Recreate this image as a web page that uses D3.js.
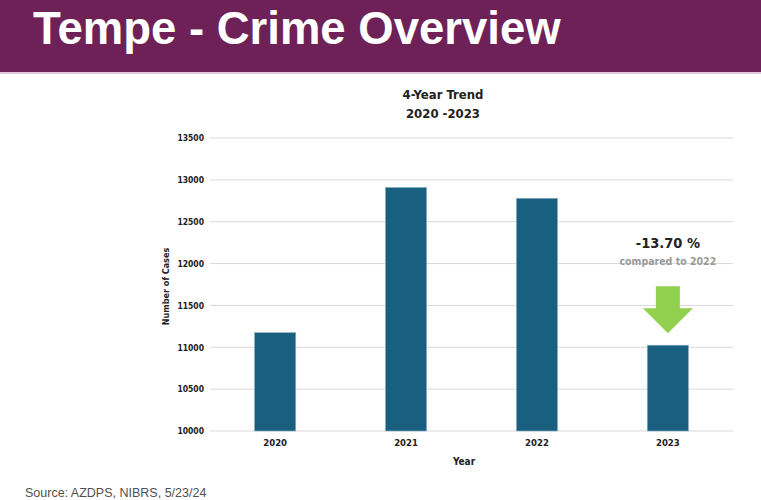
<!DOCTYPE html>
<html>
<head>
<meta charset="utf-8">
<script src="https://cdn.jsdelivr.net/npm/d3@7.9.0/dist/d3.min.js"></script>
<style>
  body { margin: 0; background: #fff; }
  svg { display: block; }
</style>
</head>
<body>
<svg id="chart" width="761" height="500"></svg>
<script>
// --- data ---
const years = ['2020', '2021', '2022', '2023'];
const cases = [11175, 12910, 12780, 11025];
const yTicks = [10000, 10500, 11000, 11500, 12000, 12500, 13000, 13500];
const changeLabel = '-13.70 %';
const changeNote = 'compared to 2022';

const svg = d3.select('#chart');
const chartFont = "'DejaVu Sans Condensed', 'Liberation Sans Narrow', sans-serif";

// banner
svg.append('rect').attr('x', 0).attr('y', 0).attr('width', 761).attr('height', 72).attr('fill', '#6e2157');
svg.append('rect').attr('x', 0).attr('y', 72).attr('width', 761).attr('height', 2).attr('fill', '#e3c6da');
svg.append('text')
  .attr('x', 33).attr('y', 44)
  .attr('fill', '#fff')
  .style('font', "bold 45.5px 'Liberation Sans', Arial, sans-serif")
  .text('Tempe - Crime Overview');

// chart area
const plotLeft = 210, plotRight = 733, plotTop = 138, plotBottom = 431;

const x = d3.scaleBand().domain(years).range([plotLeft, plotRight]).paddingInner(0.685).paddingOuter(0.34);
const y = d3.scaleLinear().domain([10000, 13500]).range([plotBottom, plotTop]);

// gridlines
svg.append('g')
  .selectAll('line')
  .data(yTicks)
  .join('line')
  .attr('x1', plotLeft).attr('x2', plotRight)
  .attr('y1', d => y(d)).attr('y2', d => y(d))
  .attr('stroke', '#d9d9d9').attr('stroke-width', 1);

// y axis labels
const yAxis = svg.append('g')
  .attr('transform', `translate(${plotLeft - 6},0)`)
  .call(d3.axisLeft(y).tickValues(yTicks).tickSize(0).tickPadding(0).tickFormat(d3.format('d')));
yAxis.select('.domain').remove();
yAxis.selectAll('text')
  .attr('fill', '#222')
  .style('font', `bold 8.5px ${chartFont}`);

// x axis labels
const xAxis = svg.append('g')
  .attr('transform', `translate(0,${plotBottom + 8})`)
  .call(d3.axisBottom(x).tickSize(0).tickPadding(0));
xAxis.select('.domain').remove();
xAxis.selectAll('text')
  .attr('fill', '#222')
  .style('font', `bold 9.5px ${chartFont}`);

// bars
svg.append('g')
  .selectAll('rect')
  .data(years.map((yr, i) => ({ yr, v: cases[i] })))
  .join('rect')
  .attr('x', d => x(d.yr))
  .attr('y', d => y(d.v))
  .attr('width', x.bandwidth())
  .attr('height', d => y(10000) - y(d.v))
  .attr('fill', '#185f80')
  .attr('stroke', '#8fb5c8')
  .attr('stroke-width', 0.6);

// titles
svg.append('text')
  .attr('x', 443).attr('y', 99).attr('text-anchor', 'middle')
  .attr('fill', '#222')
  .style('font', `bold 13px ${chartFont}`)
  .text('4-Year Trend');
svg.append('text')
  .attr('x', 443).attr('y', 118).attr('text-anchor', 'middle')
  .attr('fill', '#222')
  .style('font', `bold 13px ${chartFont}`)
  .text('2020 -2023');

svg.append('text')
  .attr('x', 464).attr('y', 465).attr('text-anchor', 'middle')
  .attr('fill', '#222')
  .style('font', `bold 10px ${chartFont}`)
  .text('Year');

svg.append('text')
  .attr('transform', `translate(169,${(plotTop + plotBottom) / 2 + 2}) rotate(-90)`)
  .attr('text-anchor', 'middle')
  .attr('fill', '#222')
  .style('font', `bold 9px ${chartFont}`)
  .text('Number of Cases');

// annotation over the 2023 bar
const cx = x('2023') + x.bandwidth() / 2;
const barTop = y(cases[3]);
svg.append('text')
  .attr('x', cx).attr('y', 248).attr('text-anchor', 'middle')
  .attr('fill', '#222')
  .style('font', `bold 14.5px ${chartFont}`)
  .text(changeLabel);
svg.append('text')
  .attr('x', cx).attr('y', 265).attr('text-anchor', 'middle')
  .attr('fill', '#999')
  .style('font', `bold 10.5px ${chartFont}`)
  .text(changeNote);

const tip = barTop - 12;
svg.append('path')
  .attr('d', d3.line()([
    [cx - 12, tip - 47], [cx + 12, tip - 47], [cx + 12, tip - 25], [cx + 25, tip - 25],
    [cx, tip], [cx - 25, tip - 25], [cx - 12, tip - 25]
  ]) + 'Z')
  .attr('fill', '#92d050');

// source
svg.append('text')
  .attr('x', 25).attr('y', 497)
  .attr('fill', '#505050')
  .style('font', "12.5px 'Liberation Sans', Arial, sans-serif")
  .text('Source: AZDPS, NIBRS, 5/23/24');
</script>
</body>
</html>
